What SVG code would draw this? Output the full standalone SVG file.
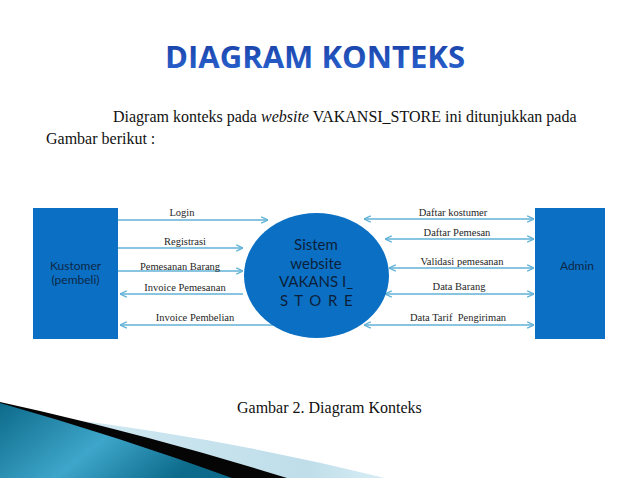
<svg xmlns="http://www.w3.org/2000/svg" width="638" height="478" viewBox="0 0 638 478">
<defs>
<style>
.lbl{font-family:"Liberation Serif","Times New Roman",serif;font-size:10.5px;fill:#262626;text-anchor:middle}
.body{font-family:"Liberation Serif","Times New Roman",serif;font-size:16px;fill:#111}
.node{fill:#0b6fc3}
.ntxt{font-family:Lato,"Open Sans",sans-serif;font-size:12px;fill:#0c2847;text-anchor:middle}
.ctxt{font-family:Lato,"Open Sans",sans-serif;font-size:15px;fill:#0b1f3a;text-anchor:middle}
.flow{stroke:#62b2d6;stroke-width:1.5;fill:none}
</style>
<marker id="ah" viewBox="0 0 10 10" refX="9.5" refY="5" markerWidth="8" markerHeight="8" markerUnits="userSpaceOnUse" orient="auto-start-reverse">
<path d="M1,1 L9.5,5 L1,9" fill="none" stroke="#62b2d6" stroke-width="1.6"/>
</marker>
<linearGradient id="tg" x1="0" y1="0" x2="0" y2="1">
<stop offset="0" stop-color="#163a9e"/>
<stop offset="1" stop-color="#2c68d6"/>
</linearGradient>
<linearGradient id="teal" x1="0" y1="0" x2="1" y2="0.4">
<stop offset="0" stop-color="#0d6a8a"/>
<stop offset="0.55" stop-color="#3ea6ca"/>
<stop offset="1" stop-color="#0c6a8a"/>
</linearGradient>
<linearGradient id="light" x1="0" y1="0" x2="1" y2="0">
<stop offset="0" stop-color="#d6ecf4"/>
<stop offset="0.8" stop-color="#bfdeea"/>
<stop offset="1" stop-color="#d8edf4"/>
</linearGradient>
</defs>
<rect width="638" height="478" fill="#ffffff"/>

<text x="165" y="68" font-family="'Open Sans','DejaVu Sans',sans-serif" font-weight="bold" font-size="31" fill="url(#tg)" textLength="300" lengthAdjust="spacingAndGlyphs">DIAGRAM KONTEKS</text>

<text class="body" x="113" y="122">Diagram konteks pada <tspan font-style="italic">website</tspan> VAKANSI_STORE ini ditunjukkan pada</text>
<text class="body" x="46" y="144">Gambar berikut :</text>

<g id="connectors">
<line class="flow" x1="118" y1="220" x2="268" y2="220" marker-end="url(#ah)"/>
<line class="flow" x1="118" y1="248" x2="243" y2="248" marker-end="url(#ah)"/>
<line class="flow" x1="118" y1="271" x2="243" y2="271" marker-end="url(#ah)"/>
<line class="flow" x1="120" y1="294" x2="243" y2="294" marker-start="url(#ah)"/>
<line class="flow" x1="120" y1="325" x2="290" y2="325" marker-start="url(#ah)"/>
<line class="flow" x1="364" y1="219" x2="534" y2="219" marker-start="url(#ah)" marker-end="url(#ah)"/>
<line class="flow" x1="385" y1="239" x2="534" y2="239" marker-start="url(#ah)" marker-end="url(#ah)"/>
<line class="flow" x1="389" y1="268" x2="534" y2="268" marker-start="url(#ah)" marker-end="url(#ah)"/>
<line class="flow" x1="385" y1="294" x2="534" y2="294" marker-start="url(#ah)" marker-end="url(#ah)"/>
<line class="flow" x1="364" y1="325" x2="534" y2="325" marker-start="url(#ah)" marker-end="url(#ah)"/>
<text class="lbl" x="182" y="216">Login</text>
<text class="lbl" x="185" y="245">Registrasi</text>
<text class="lbl" x="180" y="270">Pemesanan Barang</text>
<text class="lbl" x="185" y="291">Invoice Pemesanan</text>
<text class="lbl" x="195" y="321">Invoice Pembelian</text>
<text class="lbl" x="453" y="216">Daftar kostumer</text>
<text class="lbl" x="457" y="236">Daftar Pemesan</text>
<text class="lbl" x="462" y="265">Validasi pemesanan</text>
<text class="lbl" x="459" y="290">Data Barang</text>
<text class="lbl" x="458" y="321" xml:space="preserve">Data Tarif  Pengiriman</text>
</g>

<g id="kustomer">
<rect class="node" x="33" y="208" width="85" height="131"/>
<text class="ntxt" x="75.5" y="270">Kustomer</text>
<text class="ntxt" x="75.5" y="284">(pembeli)</text>
</g>

<g id="sistem">
<ellipse class="node" cx="316.5" cy="275.5" rx="72.5" ry="62.5"/>
<text class="ctxt" x="316" y="250">Sistem</text>
<text class="ctxt" x="316" y="268.5">website</text>
<text class="ctxt" x="316" y="287">VAKANS I_</text>
<text class="ctxt" x="317" y="305.5" letter-spacing="1.4">S T O R E</text>
</g>

<g id="admin">
<rect class="node" x="535" y="208" width="70" height="131"/>
<text class="ntxt" x="577" y="270">Admin</text>
</g>

<text class="body" x="237" y="413">Gambar 2. Diagram Konteks</text>

<g id="decor">
<path d="M50,417 Q220,437 385,478 L0,478 Z" fill="url(#light)"/>
<path d="M0,402 L40,411 Q165,440 287,478 L0,478 Z" fill="#050505"/>
<path d="M0,403 Q120,437 232,478 L0,478 Z" fill="url(#teal)"/>
</g>
</svg>
